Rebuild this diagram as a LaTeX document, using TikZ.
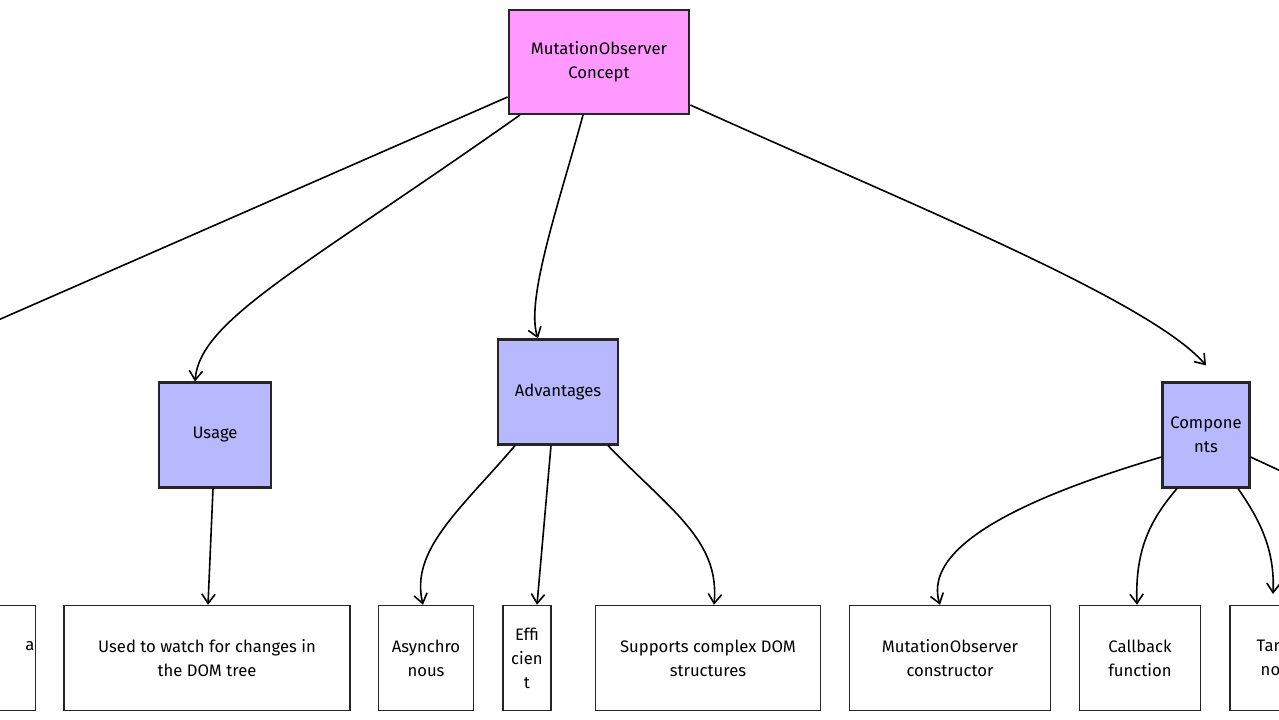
\documentclass[tikz,border=0pt]{standalone}
\usepackage{fontspec}
\setmainfont{Fira Sans}
\usetikzlibrary{arrows.meta}
\begin{document}
\begin{tikzpicture}[x=0.75pt,y=-0.75pt,
  box/.style={draw=black!85,line width=1.1pt,align=center,font=\fontsize{12.5}{18}\selectfont,inner sep=0pt},
  top/.style={box,line width=2pt,fill={rgb,255:red,255;green,153;blue,255}},
  mid/.style={box,line width=1.6pt,fill={rgb,255:red,184;green,184;blue,255}},
  leaf/.style={box},
  sz/.style 2 args={minimum width=#1*0.75pt,minimum height=#2*0.75pt},
  arr/.style={line width=1.2pt,-{Straight Barb[length=7pt,width=10pt]}},
  ln/.style={line width=1.2pt}]
\clip (0,0) rectangle (1279,720);
\fill[white] (0,0) rectangle (1279,720);
\node[top,sz={180}{104}] (c) at (599,62) {MutationObserver\\Concept};
\node[mid,sz={112}{105}] (u) at (215,435) {Usage};
\node[mid,sz={120}{105}] (a) at (558,392) {Advantages};
\node[mid,sz={87}{105}] (k) at (1206,435) {Compone\\nts};
\node[leaf,sz={135}{105}] (l0) at (-32,658) {};
\node[font=\fontsize{12.5}{18}\selectfont] (l0t) at (30,646) {a};
\node[leaf,sz={286}{105}] (l1) at (207,658) {Used to watch for changes in\\the DOM tree};
\node[leaf,sz={95}{105}] (l2) at (426,658) {Asynchro\\nous};
\node[leaf,sz={48}{105}] (l3) at (527,658) {Effi\\cien\\t};
\node[leaf,sz={225}{105}] (l4) at (708,658) {Supports complex DOM\\structures};
\node[leaf,sz={201}{105}] (l5) at (950,658) {MutationObserver\\constructor};
\node[leaf,sz={121}{105}] (l6) at (1140,658) {Callback\\function};
\node[leaf,sz={100}{105}] (l7) at (1280,658) {Target\\node};
\coordinate (offl) at (-20,328);
\coordinate (offr) at (1300,480);
\draw[ln] (c.west|-0,97) -- (offl);
\draw[arr] (520,115) .. controls (300,270) and (200,320) .. (u.north-|195,0);
\draw[arr] (583,115) .. controls (560,200) and (525,300) .. (a.north-|538,0);
\draw[arr] (c.east|-0,105) .. controls (900,200) and (1150,300) .. ([yshift=12]k.north);
\draw[arr] (u.south-|213,0) -- (l1.north-|208,0);
\draw[arr] (a.south-|515,0) .. controls (460,510) and (410,550) .. (l2.north-|423,0);
\draw[arr] (a.south-|551,0) -- (l3.north-|537,0);
\draw[arr] (a.south-|608,0) .. controls (670,510) and (720,540) .. (l4.north-|714,0);
\draw[arr] (k.west|-0,457) .. controls (1050,490) and (920,540) .. (l5.north-|940,0);
\draw[arr] (k.south-|1177,0) .. controls (1150,520) and (1135,550) .. (l6.north-|1137,0);
\draw[arr] (k.south-|1238,0) .. controls (1260,520) and (1275,550) .. (1273,594);
\draw[ln] (k.east|-0,457) -- (offr);
\end{tikzpicture}
\end{document}
